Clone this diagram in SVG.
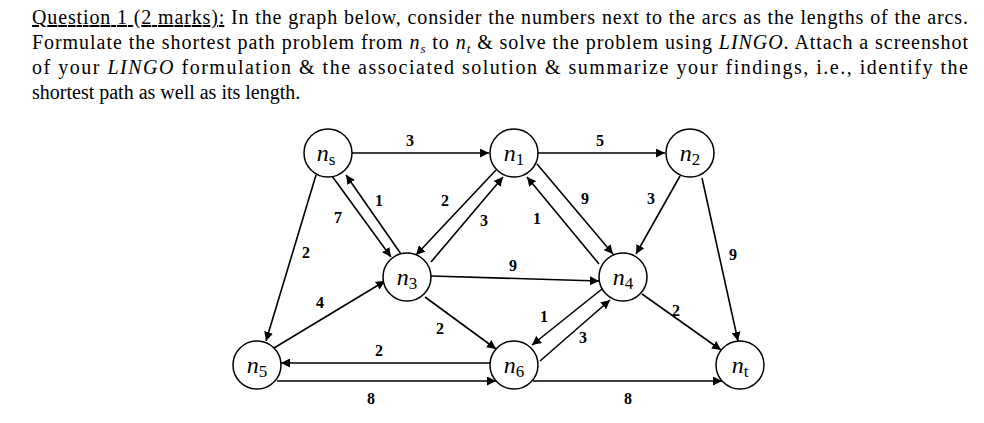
<svg xmlns="http://www.w3.org/2000/svg" width="984" height="423" viewBox="0 0 984 423">
<style>
.q{font-family:"Liberation Serif",serif;font-size:20px;fill:#000}
.n{font-family:"Liberation Serif",serif;font-size:24px;font-style:italic;text-anchor:middle}
.s{font-size:17px;font-style:normal}
.l{font-family:"Liberation Serif",serif;font-size:16px;font-weight:bold;text-anchor:middle}
circle{fill:#fff;stroke:#000;stroke-width:1.5}
#edges line{stroke:#000;stroke-width:1.6;marker-end:url(#a)}
</style>
<defs><marker id="a" viewBox="0 0 10 10" refX="10" refY="5" markerWidth="9" markerHeight="9" markerUnits="userSpaceOnUse" orient="auto"><path d="M0,0L10,5L0,10z"/></marker></defs>
<rect width="984" height="423" fill="#fff"/>
<g id="question">
<text class="q" x="32" y="24" textLength="936" lengthAdjust="spacing"><tspan text-decoration="underline">Question 1 (2 marks):</tspan> In the graph below, consider the numbers next to the arcs as the lengths of the arcs.</text>
<text class="q" x="32" y="49" textLength="936" lengthAdjust="spacing">Formulate the shortest path problem from <tspan font-style="italic">n<tspan font-size="13" dy="4">s</tspan></tspan><tspan dy="-4"> to </tspan><tspan font-style="italic">n<tspan font-size="13" dy="4">t</tspan></tspan><tspan dy="-4"> &amp; solve the problem using </tspan><tspan font-style="italic">LINGO</tspan>. Attach a screenshot</text>
<text class="q" x="32" y="74" textLength="936" lengthAdjust="spacing">of your <tspan font-style="italic">LINGO</tspan> formulation &amp; the associated solution &amp; summarize your findings, i.e., identify the</text>
<text class="q" x="32" y="99">shortest path as well as its length.</text>
</g>
<g id="edges">
<line x1="352" y1="153" x2="489" y2="153"/>
<line x1="538" y1="153" x2="665" y2="153"/>
<line x1="316" y1="175" x2="266" y2="341"/>
<line x1="332" y1="176" x2="391" y2="257"/>
<line x1="401" y1="254" x2="346" y2="175"/>
<line x1="496" y1="170" x2="416" y2="255"/>
<line x1="431" y1="262" x2="503" y2="177"/>
<line x1="599" y1="264" x2="527" y2="177"/>
<line x1="537" y1="164" x2="613" y2="254"/>
<line x1="680" y1="176" x2="636" y2="254"/>
<line x1="702" y1="178" x2="738" y2="341"/>
<line x1="431" y1="276" x2="599" y2="281"/>
<line x1="602" y1="289" x2="532" y2="345"/>
<line x1="540" y1="361" x2="610" y2="300"/>
<line x1="642" y1="294" x2="721" y2="350"/>
<line x1="425" y1="297" x2="496" y2="349"/>
<line x1="274" y1="348" x2="385" y2="281"/>
<line x1="490" y1="363" x2="281" y2="363"/>
<line x1="277" y1="381" x2="496" y2="381"/>
<line x1="533" y1="381" x2="722" y2="381"/>
</g>
<g id="labels">
<text class="l" x="410" y="146">3</text>
<text class="l" x="600" y="146">5</text>
<text class="l" x="379" y="206">1</text>
<text class="l" x="338" y="223">7</text>
<text class="l" x="306" y="258">2</text>
<text class="l" x="445" y="206">2</text>
<text class="l" x="484" y="226">3</text>
<text class="l" x="537" y="224">1</text>
<text class="l" x="585" y="204">9</text>
<text class="l" x="651" y="204">3</text>
<text class="l" x="733" y="260">9</text>
<text class="l" x="513" y="271">9</text>
<text class="l" x="320" y="308">4</text>
<text class="l" x="440" y="334">2</text>
<text class="l" x="544" y="322">1</text>
<text class="l" x="583" y="343">3</text>
<text class="l" x="676" y="316">2</text>
<text class="l" x="379" y="356">2</text>
<text class="l" x="371" y="404">8</text>
<text class="l" x="628" y="404">8</text>
</g>
<g id="ns"><circle cx="328" cy="153" r="24"/><text class="n" x="326" y="161">n<tspan class="s" dy="4">s</tspan></text></g>
<g id="n1"><circle cx="514" cy="153" r="24"/><text class="n" x="514" y="161">n<tspan class="s" dy="4">1</tspan></text></g>
<g id="n2"><circle cx="690" cy="153" r="24"/><text class="n" x="690" y="161">n<tspan class="s" dy="4">2</tspan></text></g>
<g id="n3"><circle cx="407" cy="277" r="24"/><text class="n" x="407" y="285">n<tspan class="s" dy="4">3</tspan></text></g>
<g id="n4"><circle cx="623" cy="277" r="24"/><text class="n" x="623" y="285">n<tspan class="s" dy="4">4</tspan></text></g>
<g id="n5"><circle cx="257" cy="365" r="24"/><text class="n" x="257" y="373">n<tspan class="s" dy="4">5</tspan></text></g>
<g id="n6"><circle cx="514" cy="365" r="24"/><text class="n" x="514" y="373">n<tspan class="s" dy="4">6</tspan></text></g>
<g id="nt"><circle cx="740" cy="365" r="24"/><text class="n" x="740" y="373">n<tspan class="s" dy="4">t</tspan></text></g>
</svg>
